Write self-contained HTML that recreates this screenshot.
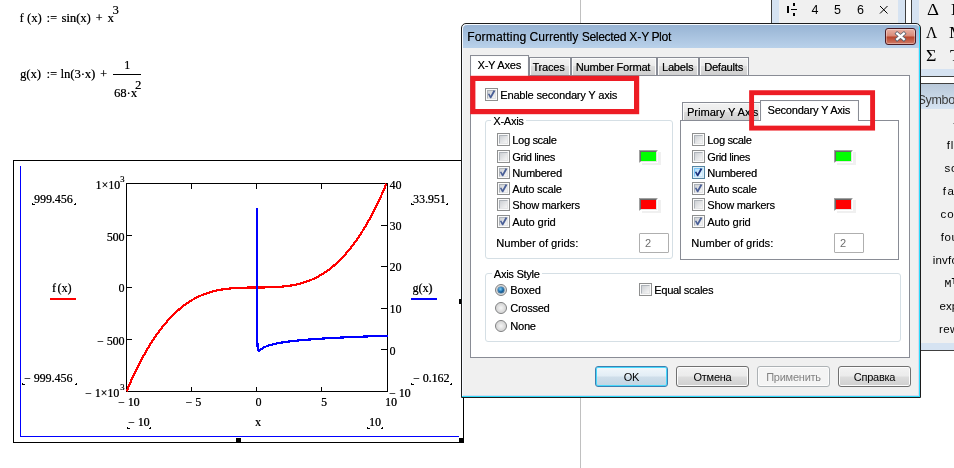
<!DOCTYPE html>
<html lang="en">
<head>
<meta charset="utf-8">
<title>Formatting Currently Selected X-Y Plot</title>
<style>
html,body{margin:0;padding:0;background:#fff;}
body{width:954px;height:468px;overflow:hidden;position:relative;}
.abs{position:absolute;}
.m{position:absolute;font:12.5px/16px 'Liberation Serif',serif;color:#000;white-space:nowrap;margin-top:2px;text-shadow:0.3px 0 0 rgba(0,0,0,.7);}
.pl{position:absolute;font:11.9px/14px 'Liberation Serif',serif;color:#000;white-space:nowrap;text-shadow:0.3px 0 0 rgba(0,0,0,.7);}
.t,.gl{position:absolute;font:11px/14px 'Liberation Sans',sans-serif;color:#000;white-space:nowrap;letter-spacing:-0.25px;margin-left:-0.7px;text-shadow:0.25px 0 0 rgba(0,0,0,.55);}
.gl{background:#fff;padding:0 2px;}
.dlg{left:461px;top:23px;width:460px;height:375px;box-sizing:border-box;border:1px solid #1c1c1c;border-radius:5px 5px 0 0;background:#f0f0f0;
 box-shadow:inset -1px -1px 0 #2ddcfb, inset 1px 1px 0 #f6faff, inset -2px -2px 0 #d3dcf0;}
.titlebar{left:463px;top:25px;width:456px;height:23px;background:linear-gradient(#98b4d4,#b9d1ea);border-radius:4px 4px 0 0;}
.close{left:885px;top:28px;width:31px;height:17px;box-sizing:border-box;border:1px solid #4a1b24;border-radius:3px;
 background:linear-gradient(#e9b1a4 0%,#d88876 48%,#b8432a 52%,#d07a66 100%);box-shadow:inset 0 0 0 1px rgba(255,255,255,.35);}
.ttl{top:29.5px;font:12px 'Liberation Sans',sans-serif;color:#000;white-space:nowrap;text-shadow:0.25px 0 0 rgba(0,0,0,.5);}
.tabpanel{left:470px;top:75px;width:440px;height:283px;box-sizing:border-box;border:1px solid #898c95;background:#fff;}
.subpanel{left:680px;top:120px;width:219px;height:140px;box-sizing:border-box;border:1px solid #898c95;background:#fff;}
.tab{position:absolute;box-sizing:border-box;border:1px solid #898c95;border-bottom:0;background:linear-gradient(#f2f2f2 0%,#ebebeb 50%,#dddddd 50%,#cfcfcf 100%);font:11px/14px 'Liberation Sans',sans-serif;color:#000;white-space:nowrap;letter-spacing:-0.2px;box-shadow:inset 1px 1px 0 #fbfbfb,inset -1px 0 0 #fbfbfb;text-shadow:0.25px 0 0 rgba(0,0,0,.55);}
.tab span{position:absolute;top:2px;}
.tab.sel{background:#fff;}
.grp{position:absolute;box-sizing:border-box;border:1px solid #d5dfe5;border-radius:3px;}
.cb{position:absolute;width:13px;height:13px;box-sizing:border-box;border:1px solid #8e8f8f;background:#fbfbfb;}
.cb i{position:absolute;left:1px;top:1px;width:9px;height:9px;box-sizing:border-box;border:1px solid;border-color:#aeb3b9 #e4e5e6 #e4e5e6 #aeb3b9;background:linear-gradient(135deg,#cdd0d4,#f6f6f6);}
.cb.hot{border-color:#5586a3;background:#deedf6;}
.cb.hot i{border-color:#79c6f9 #c6e7fb #c6e7fb #79c6f9;background:linear-gradient(135deg,#b0dcfa,#e9f6fe);}
.sw{position:absolute;width:19px;height:13px;box-sizing:border-box;border:1px solid;border-color:#a0a0a0 #fff #fff #a0a0a0;background:#f0f0f0;box-shadow:3px 2px 0 #f0f0f0;}
.sw b{position:absolute;left:0;top:0;width:17px;height:11px;box-sizing:border-box;border:1px solid;border-color:#696969 #e3e3e3 #e3e3e3 #696969;}
.inp{position:absolute;width:30px;height:20px;box-sizing:border-box;border:1px solid #afafaf;border-radius:1px;background:#fff;font:11px/18px 'Liberation Sans',sans-serif;color:#6d6d6d;padding-left:5px;}
.rd{position:absolute;width:12px;height:12px;box-sizing:border-box;border:1px solid #7d7e7f;border-radius:50%;background:radial-gradient(circle at 50% 50%,#f6f6f6 0,#d8d8d8 60%,#f2f2f2 100%);}
.rd b{position:absolute;left:2px;top:2px;width:6px;height:6px;border-radius:50%;background:radial-gradient(circle at 40% 35%,#7fd0f8 0,#1a6aa8 50%,#0b355c 100%);box-shadow:0 0 0 0.6px #3a6f96;}
.btn{position:absolute;width:73px;height:21px;box-sizing:border-box;border:1px solid #707070;border-radius:3px;background:linear-gradient(#f2f2f2 0%,#ebebeb 48%,#dddddd 52%,#cfcfcf 100%);box-shadow:inset 0 0 0 1px #fcfcfc;font:11px/20.5px 'Liberation Sans',sans-serif;color:#000;text-align:center;white-space:nowrap;letter-spacing:-0.25px;}
.btn.def{border-color:#3c7fb1;box-shadow:inset 0 0 0 1px #48d8fb;background:linear-gradient(#f1f7fb 0%,#e2edf5 48%,#cfdeea 52%,#c1d5e3 100%);}
.btn.dis{border-color:#adb2b5;background:#f4f4f4;color:#838383;}
.redbox{box-sizing:border-box;border:5px solid #ed1c24;}
.cal{position:absolute;top:3px;font:12.5px/14px 'Liberation Sans',sans-serif;color:#000;}
.gk{position:absolute;font:16.5px/20px 'Liberation Serif',serif;color:#000;transform:scaleX(1.1);transform-origin:0 0;}
.sy{position:absolute;margin-top:3px;font:11.5px/16px 'Liberation Sans',sans-serif;color:#000;white-space:nowrap;letter-spacing:1px;}
</style>
</head>
<body>

<div class="abs" style="left:580px;top:0;width:1px;height:468px;background:#c0c0c0"></div>

<!-- calculator toolbar -->
<div class="abs" style="left:771px;top:0;width:135px;height:30px;background:#f0f0f0;border-left:1px solid #404040;border-right:1px solid #404040;box-sizing:border-box"></div>
<div class="abs" style="left:772px;top:0;width:7px;height:30px;background:#d6e3f2"></div>
<div class="abs" style="left:898px;top:0;width:7px;height:30px;background:#d6e3f2"></div>
<svg class="abs" style="left:787px;top:3px" width="12" height="14" viewBox="0 0 12 14"><g fill="#000"><rect x="0" y="3" width="2" height="7"/><rect x="6" y="0" width="2" height="3"/><rect x="4" y="6" width="6" height="1"/><rect x="6" y="10" width="2" height="3"/></g></svg>
<div class="cal" style="left:811.5px">4</div>
<div class="cal" style="left:834px">5</div>
<div class="cal" style="left:857px">6</div>
<svg class="abs" style="left:879px;top:5px" width="10" height="10" viewBox="0 0 10 10"><path d="M1,1 L8.5,8.5 M8.5,1 L1,8.5" stroke="#000" stroke-width="1" fill="none"/></svg>

<!-- greek toolbar -->
<div class="abs" style="left:911px;top:0;width:43px;height:77px;background:#f0f0f0;border-left:1px solid #404040;border-bottom:1px solid #404040;box-sizing:border-box"></div>
<div class="abs" style="left:912px;top:0;width:7px;height:76px;background:#d6e3f2"></div>
<div class="abs" style="left:912px;top:69px;width:42px;height:7px;background:#d6e3f2"></div>
<div class="gk" style="left:926.5px;top:-0.5px;transform:scaleX(1.13)">Δ</div><div class="gk" style="left:950.5px;top:-0.5px">Ε</div>
<div class="gk" style="left:925.5px;top:22.5px;transform:scaleX(0.94)">Λ</div><div class="gk" style="left:948.5px;top:22.5px">Μ</div>
<div class="gk" style="left:925.8px;top:45.5px;transform:scaleX(1.08)">Σ</div><div class="gk" style="left:949.5px;top:45.5px">Τ</div>

<!-- symbolic panel -->
<div class="abs" style="left:911px;top:83px;width:43px;height:268px;background:#f0f0f0;border:1px solid #404040;border-right:0;box-sizing:border-box"></div>
<div class="abs" style="left:912px;top:84px;width:42px;height:25px;background:linear-gradient(#b9c9da,#d6e3f2)"></div>
<div class="abs" style="left:912px;top:343px;width:42px;height:7px;background:#d6e3f2"></div>
<div class="abs" style="left:917.5px;top:93px;font:12.5px 'Liberation Sans',sans-serif;color:#3c3c3c;white-space:nowrap;letter-spacing:-0.3px">Symbolic</div>
<div class="sy" style="left:951px;top:110px">→</div>
<div class="sy" style="left:946.7px;top:134px;letter-spacing:0.8px">float</div>
<div class="sy" style="left:944.5px;top:157px;letter-spacing:0.85px">solve</div>
<div class="sy" style="left:942.7px;top:180px;letter-spacing:1.5px">factor</div>
<div class="sy" style="left:940.4px;top:203px;letter-spacing:1.05px">coeffs</div>
<div class="sy" style="left:940.7px;top:226px;letter-spacing:0.6px">fourier</div>
<div class="sy" style="left:932.7px;top:249px;letter-spacing:0.2px">invfourier</div>
<div class="sy" style="left:944.5px;top:273px;font-family:'Liberation Mono',monospace;letter-spacing:0">M<sup style="font-size:9px;line-height:0;font-weight:bold;position:relative;top:2px">T</sup></div>
<div class="sy" style="left:939.4px;top:295px;letter-spacing:0.1px">explicit</div>
<div class="sy" style="left:938.9px;top:318px;letter-spacing:0.45px">rewrite</div>


<div class="m" style="left:19.5px;top:8px">f</div>
<div class="m" style="left:27px;top:8px">(x)</div>
<div class="m" style="left:46.5px;top:8px">:=</div>
<div class="m" style="left:61.5px;top:8px">sin(x)</div>
<div class="m" style="left:95.5px;top:8px">+</div>
<div class="m" style="left:107.5px;top:8px">x</div>
<div class="m" style="left:112.5px;top:0.4px">3</div>

<div class="m" style="left:20px;top:64px">g(x)</div>
<div class="m" style="left:46.5px;top:64px">:=</div>
<div class="m" style="left:60.5px;top:64px">ln(3·x)</div>
<div class="m" style="left:100px;top:64px">+</div>
<div class="abs" style="left:113px;top:74px;width:28px;height:1px;background:#000"></div>
<div class="m" style="left:124px;top:55px">1</div>
<div class="m" style="left:114px;top:83px">68·x</div>
<div class="m" style="left:135px;top:75px">2</div>


<svg class="abs" style="left:0;top:0" width="954" height="468" viewBox="0 0 954 468">
  <g fill="none" shape-rendering="crispEdges">
    <rect x="13.5" y="160.5" width="450" height="282" stroke="#000"/>
    <path d="M20.5,166 V436.5 H459" stroke="#0000ff"/>
    <rect x="126.5" y="183.5" width="261.0" height="208.0" stroke="#000"/>
    <path d="M191.5,183.5 v5 M191.5,391.5 v-5 M126.5,235.5 h5 M256.5,183.5 v5 M256.5,391.5 v-5 M126.5,287.5 h5 M321.5,183.5 v5 M321.5,391.5 v-5 M126.5,339.5 h5 M387.5,225.1 h-7 M387.5,266.7 h-7 M387.5,308.3 h-7 M387.5,349.9 h-7" stroke="#000"/>
    <path d="M32.5,202.5 v2 h2 M75.5,202.5 v2 h-2 M411.5,202.5 v2 h2 M447.5,202.5 v2 h-2 M22.5,382.5 v2 h2 M76.5,382.5 v2 h-2 M411.5,382.5 v2 h2 M451.5,382.5 v2 h-2 M127.5,426.5 v2 h2 M150.5,426.5 v2 h-2 M367.5,426.5 v2 h2 M382.5,426.5 v2 h-2" stroke="#000"/>
    <rect x="236" y="438" width="5" height="5" fill="#000"/>
    <rect x="459" y="438" width="5" height="5" fill="#000"/>
    <rect x="459" y="299" width="3" height="5" fill="#000"/>
  </g>
  <path d="M126.50,391.44 L127.15,389.90 L127.80,388.36 L128.45,386.85 L129.10,385.35 L129.75,383.86 L130.40,382.39 L131.05,380.93 L131.70,379.49 L132.35,378.07 L133.00,376.66 L133.65,375.26 L134.30,373.88 L134.95,372.52 L135.60,371.17 L136.25,369.83 L136.90,368.51 L137.55,367.20 L138.20,365.90 L138.85,364.62 L139.50,363.36 L140.15,362.11 L140.80,360.87 L141.45,359.64 L142.10,358.43 L142.75,357.24 L143.40,356.05 L144.05,354.88 L144.70,353.73 L145.35,352.58 L146.00,351.45 L146.65,350.33 L147.30,349.23 L147.95,348.14 L148.60,347.06 L149.25,345.99 L149.90,344.94 L150.55,343.90 L151.20,342.87 L151.85,341.85 L152.50,340.85 L153.15,339.86 L153.80,338.88 L154.45,337.91 L155.10,336.96 L155.75,336.01 L156.40,335.08 L157.05,334.16 L157.70,333.25 L158.35,332.36 L159.00,331.47 L159.65,330.60 L160.30,329.74 L160.95,328.89 L161.60,328.05 L162.25,327.22 L162.90,326.40 L163.55,325.59 L164.20,324.80 L164.85,324.01 L165.50,323.24 L166.15,322.48 L166.80,321.73 L167.45,320.98 L168.10,320.25 L168.75,319.53 L169.40,318.82 L170.05,318.12 L170.70,317.43 L171.35,316.75 L172.00,316.08 L172.65,315.42 L173.30,314.78 L173.95,314.14 L174.60,313.51 L175.25,312.89 L175.90,312.28 L176.55,311.68 L177.20,311.09 L177.85,310.51 L178.50,309.93 L179.15,309.37 L179.80,308.82 L180.45,308.28 L181.10,307.74 L181.75,307.22 L182.40,306.70 L183.05,306.20 L183.70,305.70 L184.35,305.21 L185.00,304.73 L185.65,304.26 L186.30,303.80 L186.95,303.34 L187.60,302.90 L188.25,302.46 L188.90,302.03 L189.55,301.61 L190.20,301.20 L190.85,300.80 L191.50,300.40 L192.15,300.01 L192.80,299.63 L193.45,299.26 L194.10,298.90 L194.75,298.54 L195.40,298.19 L196.05,297.85 L196.70,297.52 L197.35,297.19 L198.00,296.88 L198.65,296.56 L199.30,296.26 L199.95,295.96 L200.60,295.67 L201.25,295.39 L201.90,295.11 L202.55,294.85 L203.20,294.58 L203.85,294.33 L204.50,294.08 L205.15,293.83 L205.80,293.60 L206.45,293.37 L207.10,293.14 L207.75,292.92 L208.40,292.71 L209.05,292.51 L209.70,292.31 L210.35,292.11 L211.00,291.92 L211.65,291.74 L212.30,291.56 L212.95,291.39 L213.60,291.22 L214.25,291.06 L214.90,290.90 L215.55,290.75 L216.20,290.60 L216.85,290.46 L217.50,290.32 L218.15,290.19 L218.80,290.06 L219.45,289.94 L220.10,289.82 L220.75,289.70 L221.40,289.59 L222.05,289.48 L222.70,289.38 L223.35,289.28 L224.00,289.19 L224.65,289.10 L225.30,289.01 L225.95,288.92 L226.60,288.84 L227.25,288.77 L227.90,288.69 L228.55,288.62 L229.20,288.55 L229.85,288.49 L230.50,288.43 L231.15,288.37 L231.80,288.31 L232.45,288.26 L233.10,288.21 L233.75,288.16 L234.40,288.11 L235.05,288.07 L235.70,288.03 L236.35,287.99 L237.00,287.95 L237.65,287.92 L238.30,287.89 L238.95,287.86 L239.60,287.83 L240.25,287.80 L240.90,287.78 L241.55,287.75 L242.20,287.73 L242.85,287.71 L243.50,287.69 L244.15,287.67 L244.80,287.66 L245.45,287.64 L246.10,287.63 L246.75,287.61 L247.40,287.60 L248.05,287.59 L248.70,287.58 L249.35,287.57 L250.00,287.56 L250.65,287.55 L251.30,287.55 L251.95,287.54 L252.60,287.53 L253.25,287.53 L253.90,287.52 L254.55,287.52 L255.20,287.51 L255.85,287.51 L256.50,287.50 L257.15,287.49 L257.80,287.49 L258.45,287.48 L259.10,287.48 L259.75,287.47 L260.40,287.47 L261.05,287.46 L261.70,287.45 L262.35,287.45 L263.00,287.44 L263.65,287.43 L264.30,287.42 L264.95,287.41 L265.60,287.40 L266.25,287.39 L266.90,287.37 L267.55,287.36 L268.20,287.34 L268.85,287.33 L269.50,287.31 L270.15,287.29 L270.80,287.27 L271.45,287.25 L272.10,287.22 L272.75,287.20 L273.40,287.17 L274.05,287.14 L274.70,287.11 L275.35,287.08 L276.00,287.05 L276.65,287.01 L277.30,286.97 L277.95,286.93 L278.60,286.89 L279.25,286.84 L279.90,286.79 L280.55,286.74 L281.20,286.69 L281.85,286.63 L282.50,286.57 L283.15,286.51 L283.80,286.45 L284.45,286.38 L285.10,286.31 L285.75,286.23 L286.40,286.16 L287.05,286.08 L287.70,285.99 L288.35,285.90 L289.00,285.81 L289.65,285.72 L290.30,285.62 L290.95,285.52 L291.60,285.41 L292.25,285.30 L292.90,285.18 L293.55,285.06 L294.20,284.94 L294.85,284.81 L295.50,284.68 L296.15,284.54 L296.80,284.40 L297.45,284.25 L298.10,284.10 L298.75,283.94 L299.40,283.78 L300.05,283.61 L300.70,283.44 L301.35,283.26 L302.00,283.08 L302.65,282.89 L303.30,282.69 L303.95,282.49 L304.60,282.29 L305.25,282.08 L305.90,281.86 L306.55,281.63 L307.20,281.40 L307.85,281.17 L308.50,280.92 L309.15,280.67 L309.80,280.42 L310.45,280.15 L311.10,279.89 L311.75,279.61 L312.40,279.33 L313.05,279.04 L313.70,278.74 L314.35,278.44 L315.00,278.12 L315.65,277.81 L316.30,277.48 L316.95,277.15 L317.60,276.81 L318.25,276.46 L318.90,276.10 L319.55,275.74 L320.20,275.37 L320.85,274.99 L321.50,274.60 L322.15,274.20 L322.80,273.80 L323.45,273.39 L324.10,272.97 L324.75,272.54 L325.40,272.10 L326.05,271.66 L326.70,271.20 L327.35,270.74 L328.00,270.27 L328.65,269.79 L329.30,269.30 L329.95,268.80 L330.60,268.30 L331.25,267.78 L331.90,267.26 L332.55,266.72 L333.20,266.18 L333.85,265.63 L334.50,265.07 L335.15,264.49 L335.80,263.91 L336.45,263.32 L337.10,262.72 L337.75,262.11 L338.40,261.49 L339.05,260.86 L339.70,260.22 L340.35,259.58 L341.00,258.92 L341.65,258.25 L342.30,257.57 L342.95,256.88 L343.60,256.18 L344.25,255.47 L344.90,254.75 L345.55,254.02 L346.20,253.27 L346.85,252.52 L347.50,251.76 L348.15,250.99 L348.80,250.20 L349.45,249.41 L350.10,248.60 L350.75,247.78 L351.40,246.95 L352.05,246.11 L352.70,245.26 L353.35,244.40 L354.00,243.53 L354.65,242.64 L355.30,241.75 L355.95,240.84 L356.60,239.92 L357.25,238.99 L357.90,238.04 L358.55,237.09 L359.20,236.12 L359.85,235.14 L360.50,234.15 L361.15,233.15 L361.80,232.13 L362.45,231.10 L363.10,230.06 L363.75,229.01 L364.40,227.94 L365.05,226.86 L365.70,225.77 L366.35,224.67 L367.00,223.55 L367.65,222.42 L368.30,221.27 L368.95,220.12 L369.60,218.95 L370.25,217.76 L370.90,216.57 L371.55,215.36 L372.20,214.13 L372.85,212.89 L373.50,211.64 L374.15,210.38 L374.80,209.10 L375.45,207.80 L376.10,206.49 L376.75,205.17 L377.40,203.83 L378.05,202.48 L378.70,201.12 L379.35,199.74 L380.00,198.34 L380.65,196.93 L381.30,195.51 L381.95,194.07 L382.60,192.61 L383.25,191.14 L383.90,189.65 L384.55,188.15 L385.20,186.64 L385.85,185.10 L386.50,183.56" fill="none" stroke="#ff0000" stroke-width="2.2" stroke-linejoin="round" shape-rendering="crispEdges"/>
  <path d="M256.76,208.66 L257.02,320.49 L257.28,340.04 L257.54,346.28 L257.80,348.79 L258.06,349.90 L258.32,350.39 L258.58,350.56 L258.84,350.58 L259.10,350.50 L259.36,350.36 L259.62,350.20 L259.88,350.03 L260.14,349.84 L260.40,349.66 L260.66,349.47 L260.92,349.29 L261.18,349.11 L261.44,348.93 L261.70,348.76 L261.96,348.59 L262.22,348.43 L262.48,348.27 L262.74,348.12 L263.00,347.97 L263.26,347.82 L263.52,347.68 L263.78,347.55 L264.04,347.41 L264.30,347.28 L264.56,347.16 L264.82,347.04 L265.08,346.92 L265.34,346.80 L265.60,346.69 L265.86,346.58 L266.12,346.47 L266.38,346.37 L266.64,346.26 L266.90,346.16 L267.16,346.06 L267.42,345.97 L267.68,345.87 L267.94,345.78 L268.20,345.69 L268.46,345.60 L268.72,345.52 L268.98,345.43 L269.24,345.35 L269.50,345.27 L269.76,345.19 L270.02,345.11 L270.28,345.03 L270.54,344.96 L270.80,344.88 L271.06,344.81 L271.32,344.74 L271.58,344.67 L271.84,344.60 L272.10,344.53 L272.36,344.46 L272.62,344.40 L272.88,344.33 L273.14,344.27 L273.40,344.20 L273.66,344.14 L273.92,344.08 L274.18,344.02 L274.44,343.96 L274.70,343.90 L274.96,343.84 L275.22,343.78 L275.48,343.73 L275.74,343.67 L276.00,343.62 L276.26,343.56 L276.52,343.51 L276.78,343.45 L277.04,343.40 L277.30,343.35 L277.56,343.30 L277.82,343.25 L278.08,343.20 L278.34,343.15 L278.60,343.10 L278.86,343.05 L279.12,343.01 L279.38,342.96 L279.64,342.91 L279.90,342.87 L280.16,342.82 L280.42,342.78 L280.68,342.73 L280.94,342.69 L281.20,342.64 L281.46,342.60 L281.72,342.56 L281.98,342.51 L282.24,342.47 L282.50,342.43 L282.76,342.39 L283.02,342.35 L283.28,342.31 L283.54,342.27 L283.80,342.23 L284.06,342.19 L284.32,342.15 L284.58,342.11 L284.84,342.07 L285.10,342.04 L285.36,342.00 L285.62,341.96 L285.88,341.93 L286.14,341.89 L286.40,341.85 L286.66,341.82 L286.92,341.78 L287.18,341.75 L287.44,341.71 L287.70,341.68 L287.96,341.64 L288.22,341.61 L288.48,341.57 L288.74,341.54 L289.00,341.51 L289.26,341.48 L289.52,341.44 L289.78,341.41 L290.04,341.38 L290.30,341.35 L290.56,341.31 L290.82,341.28 L291.08,341.25 L291.34,341.22 L291.60,341.19 L291.86,341.16 L292.12,341.13 L292.38,341.10 L292.64,341.07 L292.90,341.04 L293.16,341.01 L293.42,340.98 L293.68,340.95 L293.94,340.92 L294.20,340.89 L294.46,340.86 L294.72,340.84 L294.98,340.81 L295.24,340.78 L295.50,340.75 L295.76,340.73 L296.02,340.70 L296.28,340.67 L296.54,340.64 L296.80,340.62 L297.06,340.59 L297.32,340.56 L297.58,340.54 L297.84,340.51 L298.10,340.49 L298.36,340.46 L298.62,340.43 L298.88,340.41 L299.14,340.38 L299.40,340.36 L299.66,340.33 L299.92,340.31 L300.18,340.28 L300.44,340.26 L300.70,340.23 L300.96,340.21 L301.22,340.19 L301.48,340.16 L301.74,340.14 L302.00,340.11 L302.26,340.09 L302.52,340.07 L302.78,340.04 L303.04,340.02 L303.30,340.00 L303.56,339.97 L303.82,339.95 L304.08,339.93 L304.34,339.91 L304.60,339.88 L304.86,339.86 L305.12,339.84 L305.38,339.82 L305.64,339.79 L305.90,339.77 L306.16,339.75 L306.42,339.73 L306.68,339.71 L306.94,339.69 L307.20,339.66 L307.46,339.64 L307.72,339.62 L307.98,339.60 L308.24,339.58 L308.50,339.56 L308.76,339.54 L309.02,339.52 L309.28,339.50 L309.54,339.48 L309.80,339.46 L310.06,339.44 L310.32,339.42 L310.58,339.40 L310.84,339.38 L311.10,339.36 L311.36,339.34 L311.62,339.32 L311.88,339.30 L312.14,339.28 L312.40,339.26 L312.66,339.24 L312.92,339.22 L313.18,339.20 L313.44,339.18 L313.70,339.16 L313.96,339.14 L314.22,339.13 L314.48,339.11 L314.74,339.09 L315.00,339.07 L315.26,339.05 L315.52,339.03 L315.78,339.01 L316.04,339.00 L316.30,338.98 L316.56,338.96 L316.82,338.94 L317.08,338.92 L317.34,338.91 L317.60,338.89 L317.86,338.87 L318.12,338.85 L318.38,338.84 L318.64,338.82 L318.90,338.80 L319.16,338.78 L319.42,338.77 L319.68,338.75 L319.94,338.73 L320.20,338.72 L320.46,338.70 L320.72,338.68 L320.98,338.67 L321.24,338.65 L321.50,338.63 L321.76,338.62 L322.02,338.60 L322.28,338.58 L322.54,338.57 L322.80,338.55 L323.06,338.53 L323.32,338.52 L323.58,338.50 L323.84,338.49 L324.10,338.47 L324.36,338.45 L324.62,338.44 L324.88,338.42 L325.14,338.41 L325.40,338.39 L325.66,338.37 L325.92,338.36 L326.18,338.34 L326.44,338.33 L326.70,338.31 L326.96,338.30 L327.22,338.28 L327.48,338.27 L327.74,338.25 L328.00,338.24 L328.26,338.22 L328.52,338.21 L328.78,338.19 L329.04,338.18 L329.30,338.16 L329.56,338.15 L329.82,338.13 L330.08,338.12 L330.34,338.10 L330.60,338.09 L330.86,338.07 L331.12,338.06 L331.38,338.04 L331.64,338.03 L331.90,338.02 L332.16,338.00 L332.42,337.99 L332.68,337.97 L332.94,337.96 L333.20,337.94 L333.46,337.93 L333.72,337.92 L333.98,337.90 L334.24,337.89 L334.50,337.87 L334.76,337.86 L335.02,337.85 L335.28,337.83 L335.54,337.82 L335.80,337.81 L336.06,337.79 L336.32,337.78 L336.58,337.76 L336.84,337.75 L337.10,337.74 L337.36,337.72 L337.62,337.71 L337.88,337.70 L338.14,337.68 L338.40,337.67 L338.66,337.66 L338.92,337.65 L339.18,337.63 L339.44,337.62 L339.70,337.61 L339.96,337.59 L340.22,337.58 L340.48,337.57 L340.74,337.55 L341.00,337.54 L341.26,337.53 L341.52,337.52 L341.78,337.50 L342.04,337.49 L342.30,337.48 L342.56,337.47 L342.82,337.45 L343.08,337.44 L343.34,337.43 L343.60,337.42 L343.86,337.40 L344.12,337.39 L344.38,337.38 L344.64,337.37 L344.90,337.35 L345.16,337.34 L345.42,337.33 L345.68,337.32 L345.94,337.31 L346.20,337.29 L346.46,337.28 L346.72,337.27 L346.98,337.26 L347.24,337.25 L347.50,337.23 L347.76,337.22 L348.02,337.21 L348.28,337.20 L348.54,337.19 L348.80,337.17 L349.06,337.16 L349.32,337.15 L349.58,337.14 L349.84,337.13 L350.10,337.12 L350.36,337.10 L350.62,337.09 L350.88,337.08 L351.14,337.07 L351.40,337.06 L351.66,337.05 L351.92,337.04 L352.18,337.03 L352.44,337.01 L352.70,337.00 L352.96,336.99 L353.22,336.98 L353.48,336.97 L353.74,336.96 L354.00,336.95 L354.26,336.94 L354.52,336.92 L354.78,336.91 L355.04,336.90 L355.30,336.89 L355.56,336.88 L355.82,336.87 L356.08,336.86 L356.34,336.85 L356.60,336.84 L356.86,336.83 L357.12,336.82 L357.38,336.80 L357.64,336.79 L357.90,336.78 L358.16,336.77 L358.42,336.76 L358.68,336.75 L358.94,336.74 L359.20,336.73 L359.46,336.72 L359.72,336.71 L359.98,336.70 L360.24,336.69 L360.50,336.68 L360.76,336.67 L361.02,336.66 L361.28,336.65 L361.54,336.64 L361.80,336.63 L362.06,336.62 L362.32,336.61 L362.58,336.60 L362.84,336.59 L363.10,336.58 L363.36,336.57 L363.62,336.56 L363.88,336.55 L364.14,336.54 L364.40,336.53 L364.66,336.52 L364.92,336.51 L365.18,336.50 L365.44,336.49 L365.70,336.48 L365.96,336.47 L366.22,336.46 L366.48,336.45 L366.74,336.44 L367.00,336.43 L367.26,336.42 L367.52,336.41 L367.78,336.40 L368.04,336.39 L368.30,336.38 L368.56,336.37 L368.82,336.36 L369.08,336.35 L369.34,336.34 L369.60,336.33 L369.86,336.32 L370.12,336.31 L370.38,336.30 L370.64,336.29 L370.90,336.28 L371.16,336.27 L371.42,336.26 L371.68,336.25 L371.94,336.24 L372.20,336.24 L372.46,336.23 L372.72,336.22 L372.98,336.21 L373.24,336.20 L373.50,336.19 L373.76,336.18 L374.02,336.17 L374.28,336.16 L374.54,336.15 L374.80,336.14 L375.06,336.13 L375.32,336.12 L375.58,336.12 L375.84,336.11 L376.10,336.10 L376.36,336.09 L376.62,336.08 L376.88,336.07 L377.14,336.06 L377.40,336.05 L377.66,336.04 L377.92,336.03 L378.18,336.03 L378.44,336.02 L378.70,336.01 L378.96,336.00 L379.22,335.99 L379.48,335.98 L379.74,335.97 L380.00,335.96 L380.26,335.95 L380.52,335.95 L380.78,335.94 L381.04,335.93 L381.30,335.92 L381.56,335.91 L381.82,335.90 L382.08,335.89 L382.34,335.89 L382.60,335.88 L382.86,335.87 L383.12,335.86 L383.38,335.85 L383.64,335.84 L383.90,335.83 L384.16,335.83 L384.42,335.82 L384.68,335.81 L384.94,335.80 L385.20,335.79 L385.46,335.78 L385.72,335.78 L385.98,335.77 L386.24,335.76 L386.50,335.75" fill="none" stroke="#0000ff" stroke-width="2.2" stroke-linejoin="round" stroke-linecap="square" shape-rendering="crispEdges"/>
  <rect x="50" y="298" width="26" height="2" fill="#ff0000"/>
  <rect x="411" y="298" width="26" height="2" fill="#0000ff"/>

</svg>


<div class="pl" style="left:34.0px;top:191.98px;">999.456</div>
<div class="pl" style="left:24.0px;top:370.98px;">− 999.456</div>
<div class="pl" style="left:413.0px;top:191.98px;">33.951</div>
<div class="pl" style="left:413.0px;top:370.98px;">− 0.162</div>
<div class="pl" style="left:128.0px;top:414.98px;">− 10</div>
<div class="pl" style="left:369.0px;top:414.98px;">10</div>
<div class="pl" style="left:52.0px;top:280.98px;">f</div>
<div class="pl" style="left:57.5px;top:280.98px;">(x)</div>
<div class="pl" style="left:412.5px;top:280.98px;">g(x)</div>
<div class="pl" style="left:255.0px;top:414.98px;">x</div>
<div class="pl" style="left:95.5px;top:177.98px;">1×10</div>
<div class="pl" style="left:120.0px;top:171.96px;font-size:9.0px;">3</div>
<div class="pl" style="right:829.5px;top:229.98px">500</div>
<div class="pl" style="right:829.5px;top:281.48px">0</div>
<div class="pl" style="right:829.5px;top:333.98px">− 500</div>
<div class="pl" style="left:85.0px;top:385.98px;">− 1×10</div>
<div class="pl" style="left:120.0px;top:379.96px;font-size:9.0px;">3</div>
<div class="pl" style="left:389.5px;top:177.98px;">40</div>
<div class="pl" style="left:389.5px;top:218.98px;">30</div>
<div class="pl" style="left:389.5px;top:260.48px;">20</div>
<div class="pl" style="left:389.5px;top:301.98px;">10</div>
<div class="pl" style="left:389.5px;top:343.98px;">0</div>
<div class="pl" style="left:389.0px;top:385.98px;">− 10</div>
<div class="pl" style="left:118.0px;top:394.98px;">− 10</div>
<div class="pl" style="left:185.5px;top:394.98px;">− 5</div>
<div class="pl" style="left:255.5px;top:394.98px;">0</div>
<div class="pl" style="left:321.0px;top:394.98px;">5</div>
<div class="pl" style="left:385.0px;top:394.98px;">10</div>


<div class="abs dlg"></div>
<div class="abs titlebar"></div>
<div class="abs ttl" style="left:467.2px;letter-spacing:0.19px">Formatting</div>
<div class="abs ttl" style="left:529.6px;letter-spacing:0px">Currently</div>
<div class="abs ttl" style="left:581.7px;letter-spacing:-0.29px">Selected</div>
<div class="abs ttl" style="left:629.2px">X-Y</div>
<div class="abs ttl" style="left:651.4px;letter-spacing:-0.27px">Plot</div>
<div class="abs close"><svg width="29" height="15" viewBox="0 0 29 15"><path d="M11.2,4.6 L17.8,10.2 M17.8,4.6 L11.2,10.2" stroke="#56606e" stroke-width="3.8" fill="none" stroke-linecap="square"/><path d="M11.2,4.6 L17.8,10.2 M17.8,4.6 L11.2,10.2" stroke="#ffffff" stroke-width="2.3" fill="none" stroke-linecap="square"/></svg></div>

<div class="abs tabpanel"></div>
<div class="tab" style="left:529px;top:57px;width:42px;height:18px"><span style="left:2.5px">Traces</span></div>
<div class="tab" style="left:571px;top:57px;width:86px;height:18px"><span style="left:3.8px">Number Format</span></div>
<div class="tab" style="left:657px;top:57px;width:42px;height:18px"><span style="left:4px">Labels</span></div>
<div class="tab" style="left:699px;top:57px;width:50px;height:18px"><span style="left:4.2px">Defaults</span></div>
<div class="tab sel" style="left:470px;top:55px;width:59px;height:21px"><span style="left:6.5px;top:2.4px">X-Y Axes</span></div>

<div class="cb" style="left:485px;top:88px"><i></i><svg width="11" height="11" viewBox="0 0 11 11" style="position:absolute;left:0;top:0"><path d="M1.9,5.0 L3.3,4.4 L4.6,6.7 L7.5,1.3 L9.3,1.9 L5.2,9.3 L4.1,9.3 Z" fill="#4a5f97"/></svg></div><div class="t" style="left:501px;top:88px;letter-spacing:-0.17px">Enable secondary Y axis</div>

<div class="grp" style="left:485px;top:120px;width:188px;height:139px"></div>
<div class="gl" style="left:492px;top:114px">X-Axis</div>
<div class="cb" style="left:497px;top:133px"><i></i></div><div class="t" style="left:513px;top:133px;letter-spacing:-0.33px">Log scale</div><div class="cb" style="left:497px;top:150px"><i></i></div><div class="t" style="left:513px;top:150px;letter-spacing:-0.39px">Grid lines</div><div class="cb" style="left:497px;top:166px"><i></i><svg width="11" height="11" viewBox="0 0 11 11" style="position:absolute;left:0;top:0"><path d="M1.9,5.0 L3.3,4.4 L4.6,6.7 L7.5,1.3 L9.3,1.9 L5.2,9.3 L4.1,9.3 Z" fill="#4a5f97"/></svg></div><div class="t" style="left:513px;top:166px;letter-spacing:-0.23px">Numbered</div><div class="cb" style="left:497px;top:182px"><i></i><svg width="11" height="11" viewBox="0 0 11 11" style="position:absolute;left:0;top:0"><path d="M1.9,5.0 L3.3,4.4 L4.6,6.7 L7.5,1.3 L9.3,1.9 L5.2,9.3 L4.1,9.3 Z" fill="#4a5f97"/></svg></div><div class="t" style="left:513px;top:182px;letter-spacing:-0.2px">Auto scale</div><div class="cb" style="left:497px;top:198px"><i></i></div><div class="t" style="left:513px;top:198px;letter-spacing:-0.24px">Show markers</div><div class="cb" style="left:497px;top:215px"><i></i><svg width="11" height="11" viewBox="0 0 11 11" style="position:absolute;left:0;top:0"><path d="M1.9,5.0 L3.3,4.4 L4.6,6.7 L7.5,1.3 L9.3,1.9 L5.2,9.3 L4.1,9.3 Z" fill="#4a5f97"/></svg></div><div class="t" style="left:513px;top:215px;letter-spacing:-0.08px">Auto grid</div><div class="sw" style="left:639px;top:150px"><b style="background:#00ff00"></b></div><div class="sw" style="left:639px;top:198px"><b style="background:#ff0000"></b></div><div class="t" style="left:497px;top:236px;letter-spacing:0.04px">Number of grids:</div><div class="inp" style="left:639px;top:233px">2</div>

<div class="abs subpanel"></div>
<div class="tab" style="left:682px;top:102px;width:79px;height:18px"><span style="left:4px;letter-spacing:0.02px">Primary Y Axis</span></div>
<div class="tab sel" style="left:760px;top:100px;width:99px;height:21px"><span style="left:6.5px;top:2.4px">Secondary Y Axis</span></div>
<div class="cb" style="left:692px;top:133px"><i></i></div><div class="t" style="left:708px;top:133px;letter-spacing:-0.33px">Log scale</div><div class="cb" style="left:692px;top:150px"><i></i></div><div class="t" style="left:708px;top:150px;letter-spacing:-0.39px">Grid lines</div><div class="cb hot" style="left:692px;top:166px"><i></i><svg width="11" height="11" viewBox="0 0 11 11" style="position:absolute;left:0;top:0"><path d="M1.9,5.0 L3.3,4.4 L4.6,6.7 L7.5,1.3 L9.3,1.9 L5.2,9.3 L4.1,9.3 Z" fill="#1a2f7a"/></svg></div><div class="t" style="left:708px;top:166px;letter-spacing:-0.23px">Numbered</div><div class="cb" style="left:692px;top:182px"><i></i><svg width="11" height="11" viewBox="0 0 11 11" style="position:absolute;left:0;top:0"><path d="M1.9,5.0 L3.3,4.4 L4.6,6.7 L7.5,1.3 L9.3,1.9 L5.2,9.3 L4.1,9.3 Z" fill="#4a5f97"/></svg></div><div class="t" style="left:708px;top:182px;letter-spacing:-0.2px">Auto scale</div><div class="cb" style="left:692px;top:198px"><i></i></div><div class="t" style="left:708px;top:198px;letter-spacing:-0.24px">Show markers</div><div class="cb" style="left:692px;top:215px"><i></i><svg width="11" height="11" viewBox="0 0 11 11" style="position:absolute;left:0;top:0"><path d="M1.9,5.0 L3.3,4.4 L4.6,6.7 L7.5,1.3 L9.3,1.9 L5.2,9.3 L4.1,9.3 Z" fill="#4a5f97"/></svg></div><div class="t" style="left:708px;top:215px;letter-spacing:-0.08px">Auto grid</div><div class="sw" style="left:834px;top:150px"><b style="background:#00ff00"></b></div><div class="sw" style="left:834px;top:198px"><b style="background:#ff0000"></b></div><div class="t" style="left:692px;top:236px;letter-spacing:0.04px">Number of grids:</div><div class="inp" style="left:834px;top:233px">2</div>

<div class="grp" style="left:485px;top:273px;width:416px;height:69px"></div>
<div class="gl" style="left:492.5px;top:267px">Axis Style</div>
<div class="rd" style="left:495px;top:284px"><b></b></div><div class="t" style="left:511px;top:283px;letter-spacing:-0.17px">Boxed</div>
<div class="rd" style="left:495px;top:302px"></div><div class="t" style="left:511px;top:301px;letter-spacing:-0.28px">Crossed</div>
<div class="rd" style="left:495px;top:320px"></div><div class="t" style="left:511px;top:319px;letter-spacing:-0.23px">None</div>
<div class="cb" style="left:639px;top:283px"><i></i></div><div class="t" style="left:655px;top:283px;letter-spacing:-0.3px">Equal scales</div>

<div class="btn def" style="left:595px;top:366px">OK</div>
<div class="btn " style="left:676px;top:366px">Отмена</div>
<div class="btn dis" style="left:757px;top:366px">Применить</div>
<div class="btn " style="left:838px;top:366px">Справка</div>

<svg class="abs" style="left:0;top:0" width="954" height="468" viewBox="0 0 954 468"><g fill="none" stroke="#ed1c24"><rect x="472.8" y="78.4" width="163.8" height="33.2" stroke-width="5.2"/><rect x="751.6" y="92.7" width="121" height="35.4" stroke-width="4.9"/></g></svg>

</body>
</html>
